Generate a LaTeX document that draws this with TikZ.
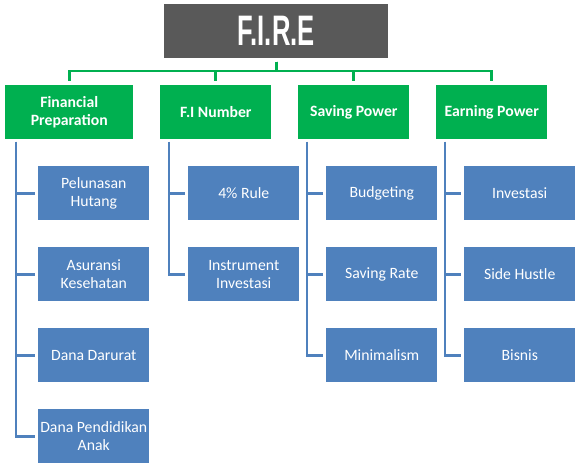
\documentclass[tikz,border=0pt]{standalone}
\usepackage{fontspec}
\setmainfont{Carlito}
\newfontfamily\firefont{Liberation Sans}
\usetikzlibrary{calc}

\definecolor{firegray}{HTML}{595959}
\definecolor{firegreen}{HTML}{00B050}
\definecolor{fireblue}{HTML}{4F81BD}

\tikzset{
  titlebox/.style={fill=firegray, text=white, anchor=north west, inner sep=0pt,
    minimum width=168pt, minimum height=40.5pt},
  topbox/.style={fill=firegreen, text=white, anchor=north west, inner sep=0pt, align=center,
    font=\fontsize{11.8}{13.5}\selectfont\bfseries, minimum width=83.25pt, minimum height=40.5pt},
  subbox/.style={fill=fireblue, text=white, anchor=north west, inner sep=0pt, align=center,
    font=\fontsize{11.8}{13.5}\selectfont, minimum width=83.25pt, minimum height=40.5pt},
  gline/.style={draw=firegreen, line width=2.2pt},
  bline/.style={draw=fireblue, line width=2pt}
}

\begin{document}
\begin{tikzpicture}[x=0.75pt,y=-0.75pt]
  \useasboundingbox (0,0) rectangle (580,466);

  \node[titlebox] (fire) at (164,4) {\firefont\fontsize{32}{32}\selectfont\bfseries\scalebox{0.6}[1]{F.I.R.E}};

  \node[topbox, minimum width=96pt] (fp) at (5,85) {Financial\\Preparation};
  \node[topbox] (fin) at (160,85) {F.I Number};
  \node[topbox] (sp) at (298,85) {Saving Power};
  \node[topbox] (ep) at (436,85) {Earning Power};

  \coordinate (gbus) at (276,71);
  \foreach \t in {fp,fin,sp,ep}
    \draw[gline, shorten <=2.25pt, shorten >=3pt] (fire.south) |- (\t.north |- gbus) -- (\t.north);

  % first column
  \node[subbox] (fp1) at (38,166) {Pelunasan\\Hutang};
  \node[subbox] (fp2) at (38,247) {Asuransi\\Kesehatan};
  \node[subbox] (fp3) at (38,328) {Dana Darurat};
  \node[subbox] (fp4) at (38,409) {Dana Pendidikan\\Anak};

  \node[subbox] (fin1) at (188,166) {4\% Rule};
  \node[subbox] (fin2) at (188,247) {Instrument\\Investasi};

  \node[subbox] (sp1) at (326,166) {Budgeting};
  \node[subbox] (sp2) at (326,247) {Saving Rate};
  \node[subbox] (sp3) at (326,328) {Minimalism};

  \node[subbox] (ep1) at (464,166) {Investasi};
  \node[subbox] (ep2) at (464,247) {Side Hustle};
  \node[subbox] (ep3) at (464,328) {Bisnis};

  \coordinate (fpstem) at (16,139);
  \coordinate (finstem) at (169,139);
  \coordinate (spstem) at (307,139);
  \coordinate (epstem) at (445,139);

  \foreach \s/\c in {fp/fp1,fp/fp2,fp/fp3,fp/fp4,fin/fin1,fin/fin2,sp/sp1,sp/sp2,sp/sp3,ep/ep1,ep/ep2,ep/ep3}
    \draw[bline, shorten <=2.25pt, shorten >=2.25pt] (\s stem) |- (\c.west);
\end{tikzpicture}
\end{document}
